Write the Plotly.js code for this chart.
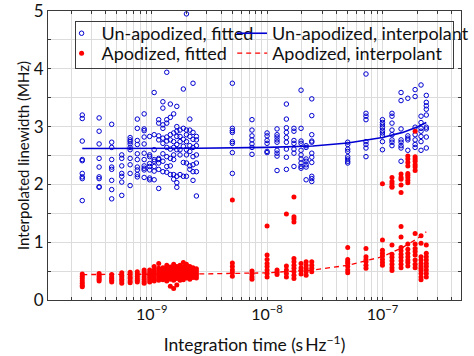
<!DOCTYPE html>
<html>
<head>
<meta charset="utf-8">
<script src="https://cdn.plot.ly/plotly-3.0.1.min.js"></script>
<style>html,body{margin:0;padding:0;background:#fff;}#chart{width:474px;height:356px;}</style>
</head>
<body>
<div id="chart"></div>
<script>
// Integration times of the measurement columns (s Hz^-1)
const columnTimes = [2.5e-10, 3.5e-10, 4.5e-10, 5.5e-10, 6.5e-10, 7.5e-10, 8.6e-10, 9.6e-10,
  1.05e-9, 1.15e-9, 1.25e-9, 1.35e-9, 1.45e-9, 1.55e-9, 1.65e-9, 1.76e-9, 1.88e-9, 2.0e-9,
  2.14e-9, 2.28e-9, 2.44e-9, 5e-9, 7.4e-9, 1e-8, 1.22e-8, 1.47e-8, 1.71e-8, 1.97e-8, 2.18e-8,
  2.44e-8, 5e-8, 7.2e-8, 1e-7, 1.21e-7, 1.45e-7, 1.66e-7, 1.92e-7, 2.16e-7, 2.4e-7];

// Un-apodized fitted linewidths (MHz), one list per column
const unapodizedFitted = [
  [3.20, 3.14, 2.75, 2.43, 2.41, 2.19, 2.13, 2.10, 1.72],
  [3.15, 2.92, 2.70, 2.45, 2.30, 2.13, 2.10, 1.96, 1.95],
  [3.04, 2.73, 2.64, 2.43, 2.30, 2.26, 2.07, 1.91, 1.75],
  [2.51, 2.45, 2.32, 2.19, 2.14, 2.04, 1.81],
  [2.81, 2.77, 2.74, 2.70, 2.64, 2.60, 2.45, 2.34, 2.19, 1.98],
  [3.13, 2.97, 2.76, 2.69, 2.53, 2.43, 2.30, 2.25, 2.17, 2.13],
  [3.22, 2.96, 2.93, 2.82, 2.70, 2.54, 2.43, 2.32, 2.28, 2.25, 2.12],
  [2.83, 2.51, 2.48, 2.36, 2.31, 2.25, 2.11, 2.08],
  [3.59, 2.86, 2.60, 2.43, 2.40, 2.31, 2.23, 2.08],
  [3.12, 3.06, 2.84, 2.77, 2.45, 2.43, 2.37, 2.26, 1.93],
  [3.43, 3.32, 3.03, 2.97, 2.80, 2.71, 2.53, 2.40, 2.22],
  [3.94, 3.12, 3.06, 2.82, 2.75, 2.64, 2.48, 2.31, 2.21],
  [3.39, 3.16, 2.86, 2.77, 2.61, 2.45, 2.32, 2.17],
  [3.22, 2.89, 2.74, 2.64, 2.51, 2.43, 2.17, 2.09],
  [3.35, 3.00, 2.92, 2.83, 2.69, 2.60, 2.14, 2.03, 1.95],
  [2.94, 2.83, 2.74, 2.60, 2.51, 2.17],
  [3.65, 2.97, 2.78, 2.66, 2.38, 2.14],
  [4.95, 2.94, 2.86, 2.74, 2.60, 2.51, 2.37, 2.14],
  [3.13, 2.94, 2.83, 2.67, 2.57, 2.32, 2.26],
  [3.75, 2.90, 2.78, 2.64, 2.48, 2.34, 2.22, 2.07],
  [2.83, 2.77, 2.67, 2.51, 2.37, 2.22, 1.80],
  [3.75, 2.97, 2.93, 2.90, 2.74, 2.71, 2.55, 2.19],
  [3.12, 2.94, 2.84, 2.77, 2.70, 2.64, 2.52],
  [2.89, 2.84, 2.76, 2.71, 2.57, 2.55],
  [2.96, 2.86, 2.82, 2.77, 2.73, 2.59, 2.54, 2.49, 2.24],
  [3.39, 3.13, 2.98, 2.90, 2.81, 2.73, 2.61, 2.47, 2.26],
  [2.97, 2.92, 2.76, 2.71, 2.61, 2.54, 2.31],
  [3.63, 2.97, 2.75, 2.71, 2.59, 2.51, 2.44, 2.37, 2.31, 2.28],
  [2.67, 2.64, 2.44, 2.40, 2.34, 2.30, 2.08],
  [3.48, 3.19, 2.86, 2.75, 2.73, 2.54, 2.47, 2.38, 2.14, 2.10, 2.05],
  [2.73, 2.69, 2.61, 2.57, 2.48, 2.44, 2.40, 2.37],
  [3.91, 3.23, 3.18, 3.12, 2.74, 2.69, 2.63, 2.48],
  [3.12, 3.07, 3.03, 2.98, 2.93, 2.89, 2.84, 2.74, 2.60],
  [3.23, 3.18, 3.06, 2.94, 2.86, 2.77, 2.73, 2.67],
  [3.59, 3.45, 2.96, 2.77, 2.73, 2.67, 2.63, 2.40],
  [3.49, 2.84, 2.80, 2.77, 2.59],
  [3.64, 3.52, 2.99, 2.86, 2.77, 2.69, 2.64],
  [3.72, 3.18, 3.07, 2.97, 2.92, 2.83, 2.74, 2.59],
  [3.54, 3.42, 3.36, 3.30, 3.20, 2.99, 2.96, 2.82, 2.63]
];

// Apodized fitted linewidths (MHz), one list per column
const apodizedFitted = [
  [0.45, 0.41, 0.37, 0.33, 0.29, 0.25, 0.23],
  [0.46, 0.42, 0.39, 0.36, 0.33],
  [0.44, 0.40, 0.37, 0.34, 0.31],
  [0.47, 0.43, 0.40, 0.36, 0.33, 0.29],
  [0.48, 0.44, 0.40, 0.37, 0.33, 0.30],
  [0.49, 0.45, 0.41, 0.37, 0.34, 0.31],
  [0.52, 0.48, 0.44, 0.40, 0.36, 0.32, 0.29],
  [0.52, 0.47, 0.43, 0.39, 0.35, 0.31],
  [0.58, 0.52, 0.48, 0.44, 0.40, 0.36, 0.33],
  [0.63, 0.55, 0.50, 0.46, 0.42, 0.38, 0.34],
  [0.56, 0.51, 0.47, 0.43, 0.39, 0.35],
  [0.60, 0.54, 0.49, 0.45, 0.41, 0.37, 0.33],
  [0.57, 0.52, 0.48, 0.44, 0.40, 0.36, 0.24],
  [0.62, 0.55, 0.50, 0.46, 0.42, 0.38, 0.34, 0.20],
  [0.58, 0.53, 0.49, 0.45, 0.41, 0.37, 0.26],
  [0.60, 0.54, 0.50, 0.46, 0.42, 0.38, 0.34],
  [0.65, 0.57, 0.52, 0.47, 0.43, 0.39, 0.35],
  [0.62, 0.55, 0.50, 0.46, 0.42, 0.38],
  [0.58, 0.53, 0.48, 0.44, 0.40, 0.36],
  [0.56, 0.51, 0.47, 0.43, 0.39],
  [0.54, 0.50, 0.46, 0.42, 0.38],
  [1.73, 0.64, 0.58, 0.52, 0.47, 0.41],
  [0.50, 0.45, 0.40, 0.36],
  [1.28, 0.78, 0.70, 0.63, 0.58, 0.52, 0.46, 0.40],
  [0.52, 0.48, 0.44],
  [1.49, 0.59, 0.52, 0.46, 0.40],
  [1.78, 1.44, 1.40, 1.35, 0.72, 0.66, 0.60, 0.55, 0.49, 0.43, 0.37],
  [0.63, 0.56, 0.51, 0.45],
  [0.66, 0.60, 0.55, 0.49, 0.43],
  [0.66, 0.60, 0.55, 0.49],
  [0.91, 0.70, 0.66, 0.63, 0.58, 0.52, 0.47],
  [0.89, 0.75, 0.70, 0.66, 0.60, 0.55],
  [2.01, 1.04, 0.86, 0.81, 0.76, 0.70, 0.65, 0.60],
  [2.12, 2.05, 2.01, 1.97, 1.95, 0.95, 0.79, 0.74, 0.68, 0.62, 0.56, 0.51],
  [2.18, 2.12, 2.09, 1.99, 1.86, 1.27, 1.09, 0.91, 0.85, 0.79, 0.74, 0.68, 0.62, 0.56],
  [2.49, 2.44, 2.38, 2.32, 2.19, 2.16, 2.12, 2.07, 2.03, 0.97, 0.88, 0.81, 0.75, 0.69, 0.65, 0.59],
  [2.92, 2.48, 2.44, 2.40, 2.34, 2.30, 2.24, 1.15, 0.97, 0.89, 0.84, 0.78, 0.69, 0.62, 0.56],
  [1.11, 0.98, 0.75, 0.69, 0.63, 0.59, 0.55, 0.51, 0.46, 0.40, 0.35],
  [0.95, 0.81, 0.75, 0.69, 0.63, 0.58, 0.52, 0.46, 0.40]
];

// Interpolants
const interpTimes = [2.5e-10, 1e-9, 2.5e-9, 1e-8, 2.5e-8, 5e-8, 1e-7, 1.5e-7, 2e-7, 2.4e-7];
const unapodizedInterp = [2.62, 2.62, 2.625, 2.64, 2.665, 2.715, 2.81, 2.90, 2.995, 3.07];
const apodizedInterp = [0.44, 0.44, 0.45, 0.47, 0.52, 0.60, 0.75, 0.91, 1.06, 1.18];

// Tick / grid positions and labels
const xTickVals = [2e-10, 3e-10, 4e-10, 5e-10, 6e-10, 7e-10, 8e-10, 9e-10,
  1e-9, 2e-9, 3e-9, 4e-9, 5e-9, 6e-9, 7e-9, 8e-9, 9e-9,
  1e-8, 2e-8, 3e-8, 4e-8, 5e-8, 6e-8, 7e-8, 8e-8, 9e-8,
  1e-7, 2e-7, 3e-7, 4e-7];
const xTickText = ['', '', '', '', '', '', '', '',
  '10<sup>\u22129</sup>', '', '', '', '', '', '', '', '',
  '10<sup>\u22128</sup>', '', '', '', '', '', '', '', '',
  '10<sup>\u22127</sup>', '', '', ''];
const yTickVals = [0, 0.5, 1, 1.5, 2, 2.5, 3, 3.5, 4, 4.5, 5];
const yTickText = ['0', '', '1', '', '2', '', '3', '', '4', '', '5'];

function flatten(cols) {
  const xs = [], ys = [];
  cols.forEach((vals, i) => vals.forEach(v => { xs.push(columnTimes[i]); ys.push(v); }));
  return {xs, ys};
}
const un = flatten(unapodizedFitted);
const ap = flatten(apodizedFitted);

const BLUE = 'rgb(0,0,210)';
const RED = 'rgb(255,0,0)';
const FONT = 'Lato, "Noto Sans", sans-serif';
const GRID = '#dcdcdc';
const FRAME = '#3a3a3a';

// blank entry used only to draw the framed box around the legend
const legendFrameLabel = '\u00a0'.repeat(21) + '.';

const traces = [
  {x: un.xs, y: un.ys, type: 'scatter', mode: 'markers', name: 'Un-apodized, fitted',
   marker: {symbol: 'circle-open', size: 4.5, color: BLUE, line: {width: 1, color: BLUE}}, legend: 'legend'},
  {x: interpTimes, y: unapodizedInterp, type: 'scatter', mode: 'lines', name: 'Un-apodized, interpolant',
   line: {color: BLUE, width: 1.6}, legend: 'legend2'},
  {x: ap.xs, y: ap.ys, type: 'scatter', mode: 'markers', name: 'Apodized, fitted',
   marker: {symbol: 'circle', size: 5, color: RED}, legend: 'legend3'},
  {x: interpTimes, y: apodizedInterp, type: 'scatter', mode: 'lines', name: 'Apodized, interpolant',
   line: {color: RED, width: 1.3, dash: '5px,4px'}, legend: 'legend4'},
  {x: [interpTimes[0]], y: [apodizedInterp[0]], type: 'scatter', mode: 'markers', name: legendFrameLabel,
   visible: 'legendonly', showlegend: true,
   marker: {color: 'rgba(0,0,0,0)', size: 1}, legend: 'legend5', hoverinfo: 'skip'}
];

function legendAt(x, y) {
  return {x: x, y: y, xanchor: 'left', yanchor: 'top', bgcolor: 'rgba(0,0,0,0)',
          borderwidth: 0, font: {size: 18}, tracegroupgap: 0};
}

const layout = {
  width: 474, height: 356,
  margin: {l: 48, r: 0, t: 11, b: 56},
  paper_bgcolor: '#fff', plot_bgcolor: '#fff',
  font: {family: FONT, size: 16, color: '#111'},
  showlegend: true,
  xaxis: {
    type: 'log', range: [-9.899, -6.319],
    tickmode: 'array', tickvals: xTickVals, ticktext: xTickText,
    ticks: 'inside', ticklen: 3, tickcolor: FRAME,
    showline: true, linecolor: FRAME, linewidth: 1, mirror: 'ticks',
    showgrid: true, gridcolor: GRID, gridwidth: 1, zeroline: false,
    tickfont: {size: 16},
    title: {text: 'Integration time (s\u2009Hz<sup>\u22121</sup>)', font: {size: 17.5}, standoff: 16}
  },
  yaxis: {
    range: [0, 5], tickmode: 'array', tickvals: yTickVals, ticktext: yTickText,
    ticks: 'inside', ticklen: 3, tickcolor: FRAME, ticklabeloverflow: 'allow',
    showline: true, linecolor: FRAME, linewidth: 1, mirror: 'ticks',
    showgrid: true, gridcolor: GRID, zeroline: false,
    tickfont: {size: 17},
    title: {text: 'Interpolated linewidth (MHz)', font: {size: 15}, standoff: 0}
  },
  legend: legendAt(0.0329, 0.986),
  legend2: legendAt(0.446, 0.986),
  legend3: legendAt(0.0329, 0.917),
  legend4: legendAt(0.446, 0.917),
  legend5: {x: 0.0657, y: 0.9664, xanchor: 'left', yanchor: 'top', bgcolor: 'rgba(0,0,0,0)',
            bordercolor: FRAME, borderwidth: 1, itemclick: false, itemdoubleclick: false,
            font: {size: 25, family: '"DejaVu Sans Mono", "Liberation Mono", monospace', color: 'rgba(0,0,0,0)'}}
};

Plotly.newPlot('chart', traces, layout, {displayModeBar: false});
</script>
</body>
</html>
